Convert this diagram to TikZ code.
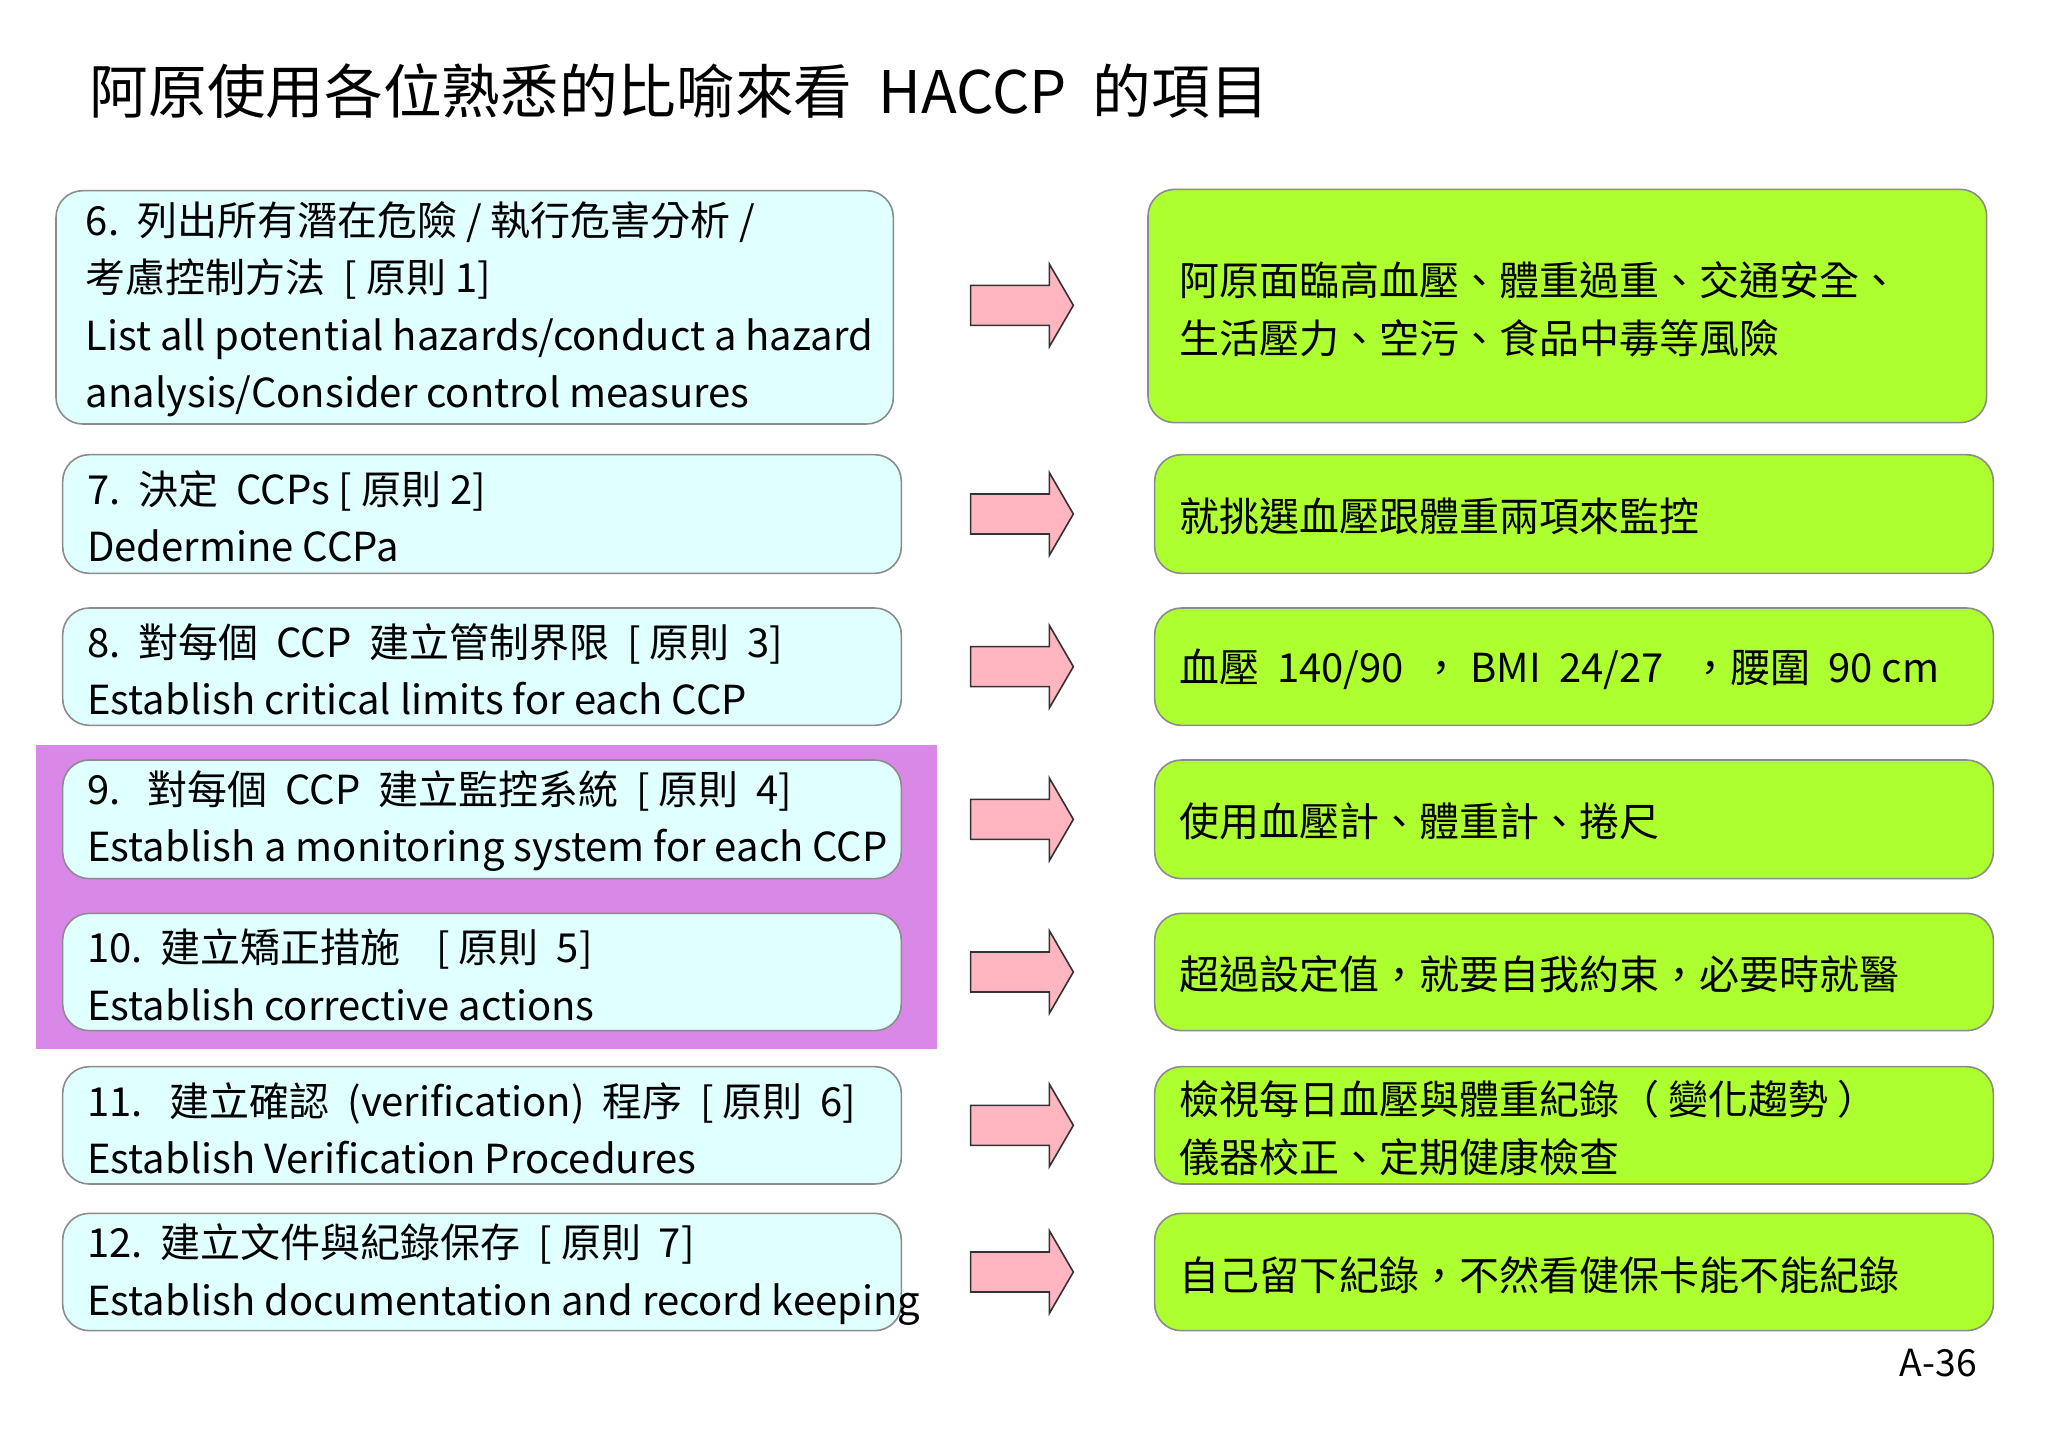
\documentclass[tikz,border=0pt]{standalone}
\usepackage{fontspec}
\setmainfont{Noto Sans CJK TC}
\definecolor{lbox}{HTML}{E0FFFF}
\definecolor{rbox}{HTML}{ADFF2F}
\definecolor{pur}{HTML}{DA88E8}
\definecolor{pk}{HTML}{FFB6C1}
\tikzset{
 lb/.style={draw=black!45,fill=lbox,rounded corners=10pt,line width=0.6pt},
 rb/.style={draw=black!45,fill=rbox,rounded corners=10pt,line width=0.6pt},
 tx/.style={anchor=west,align=left,inner sep=0pt,font=\fontsize{15}{21.5}\selectfont},
 arr/.style={draw=black!80,fill=pk,line width=0.6pt}
}
\newcommand{\blockarrow}[2]{\coordinate (#1) at (728,#2);
 \draw[arr] (#1) ++(0,-15) -- ++(59,0) -- ++(0,-16) -- ++(18,31) -- ++(-18,31) -- ++(0,-16) -- ++(-59,0) -- cycle;}
\begin{document}
\begin{tikzpicture}[x=0.5pt,y=-0.5pt]
\useasboundingbox (0,0) rectangle (1536,1086);
\fill[white] (0,0) rectangle (1536,1086);
\node[anchor=west,inner sep=0pt,font=\fontsize{22}{26}\selectfont] (title) at (67,68) {阿原使用各位熟悉的比喻來看\ \ HACCP\ \ 的項目};
\fill[pur] (27,559) rectangle (703,787);
\draw[lb] (42,143) rectangle (670,318);
\foreach \n/\a/\b in {2/341/430,3/456/544,4/570/659,5/685/773,6/800/888,7/910/998}{
 \pgfmathsetmacro{\m}{(\a+\b)/2}
 \draw[rb] (866,\a) rectangle (1495,\b);
 \draw[lb] (47,\a) rectangle (676,\b);
 \blockarrow{ar\n}{\m}
}
\draw[rb] (861,142) rectangle (1490,317);
\blockarrow{ar1}{229}
\node[tx] (l1) at (64,232) {6.\ \ 列出所有潛在危險 / 執行危害分析 /\\考慮控制方法\ \ [ 原則 1]\\List all potential hazards/conduct a hazard\\analysis/Consider control measures};
\node[tx] (l2) at (65,387) {7.\ \ 決定\ \ CCPs [ 原則 2]\\Dedermine CCPa};
\node[tx] (l3) at (65,502) {8.\ \ 對每個\ \ CCP\ \ 建立管制界限\ \ [ 原則\ \ 3]\\Establish critical limits for each CCP};
\node[tx] (l4) at (65,616) {9.\ \ \ 對每個\ \ CCP\ \ 建立監控系統\ \ [ 原則\ \ 4]\\Establish a monitoring system for each CCP};
\node[tx] (l5) at (65,731) {10.\ \ 建立矯正措施\ \ \ \ [ 原則\ \ 5]\\Establish corrective actions};
\node[tx] (l6) at (65,846) {11.\ \ \ 建立確認\ \ (verification)\ \ 程序\ \ [ 原則\ \ 6]\\Establish Verification Procedures};
\node[tx] (l7) at (65,956) {12.\ \ 建立文件與紀錄保存\ \ [ 原則\ \ 7]\\Establish documentation and record keeping};
\node[tx] (r1) at (884,232) {阿原面臨高血壓、體重過重、交通安全、\\生活壓力、空污、食品中毒等風險};
\node[tx] (r2) at (884,387) {就挑選血壓跟體重兩項來監控};
\node[tx] (r3) at (884,502) {血壓\ \ 140/90\ \ ，\ BMI\ \ 24/27\ \ \ ，腰圍\ \ 90 cm};
\node[tx] (r4) at (884,616) {使用血壓計、體重計、捲尺};
\node[tx] (r5) at (884,731) {超過設定值，就要自我約束，必要時就醫};
\node[tx] (r6) at (884,846) {檢視每日血壓與體重紀錄（ 變化趨勢 ）\\儀器校正、定期健康檢查};
\node[tx] (r7) at (884,956) {自己留下紀錄，不然看健保卡能不能紀錄};
\node[anchor=east,inner sep=0pt,font=\fontsize{14}{16}\selectfont] (pg) at (1483,1022) {A-36};
\end{tikzpicture}
\end{document}
